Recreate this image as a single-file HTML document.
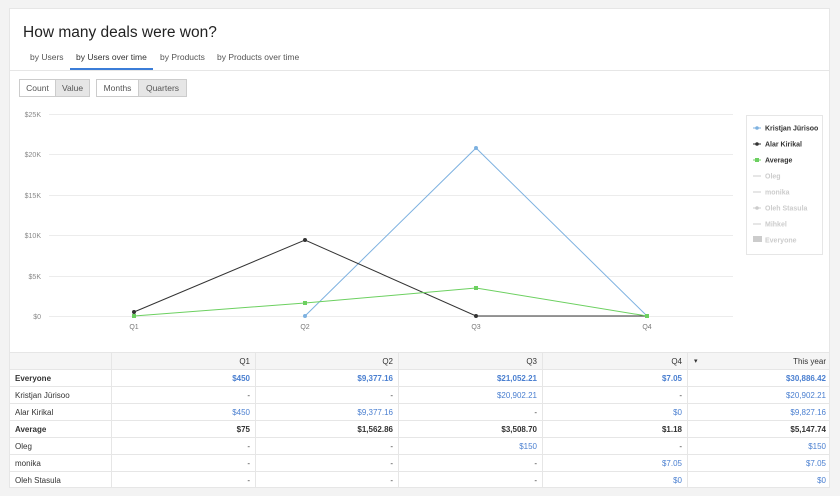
<!DOCTYPE html>
<html><head><meta charset="utf-8"><style>
*{margin:0;padding:0;box-sizing:border-box}
body{width:840px;height:496px;background:#f3f3f3;font-family:"Liberation Sans",sans-serif;position:relative;overflow:hidden}
#p{position:absolute;left:9px;top:8px;width:821px;height:480px;background:#fff;border:1px solid #e6e6e6;overflow:hidden}
h1{position:absolute;left:13px;top:15px;font-size:15.5px;font-weight:normal;color:#222}
.tab{position:absolute;top:43px;font-size:8.5px;color:#555}
.btn{position:absolute;top:70px;height:18px;border:1px solid #ccc;font-size:8.5px;color:#555;line-height:16px;text-align:center;background:#fff}
.btn.on{background:#e6e6e6}
table{position:absolute;left:-1px;top:343px;border-collapse:collapse;font-size:8px;color:#333;table-layout:fixed;width:822px}
td{height:17px;border:1px solid #e6e6e6;text-align:right;padding:0 5px;white-space:nowrap;overflow:hidden}
td:first-child{text-align:left}
tr.h td{background:#f5f5f5;color:#333}
.b{font-weight:bold}
.l{color:#4a7fd0}
</style></head><body>
<div id="p">
<h1>How many deals were won?</h1>
<div class="tab" style="left:20px">by Users</div>
<div class="tab" style="left:66px;color:#333">by Users over time</div>
<div style="position:absolute;left:60px;top:59px;width:83px;height:2px;background:#3b7dd8"></div>
<div class="tab" style="left:150px">by Products</div>
<div class="tab" style="left:207px">by Products over time</div>
<div style="position:absolute;left:0;top:61px;width:821px;height:1px;background:#e6e6e6"></div>
<div class="btn" style="left:9px;width:37px">Count</div>
<div class="btn on" style="left:45px;width:35px">Value</div>
<div class="btn" style="left:86px;width:43px">Months</div>
<div class="btn on" style="left:128px;width:49px">Quarters</div>
<svg style="position:absolute;left:0;top:0" width="821" height="340" font-family="Liberation Sans" font-size="7">
<g stroke="#ececec" stroke-width="1">
<line x1="39" x2="723" y1="105.5" y2="105.5"/><line x1="39" x2="723" y1="145.5" y2="145.5"/><line x1="39" x2="723" y1="186.5" y2="186.5"/><line x1="39" x2="723" y1="226.5" y2="226.5"/><line x1="39" x2="723" y1="267.5" y2="267.5"/><line x1="39" x2="723" y1="307.5" y2="307.5"/></g>
<g fill="#888" text-anchor="end"><text x="31" y="108">$25K</text><text x="31" y="148">$20K</text><text x="31" y="189">$15K</text><text x="31" y="229">$10K</text><text x="31" y="270">$5K</text><text x="31" y="310">$0</text></g>
<g fill="#777" text-anchor="middle"><text x="124" y="320">Q1</text><text x="295" y="320">Q2</text><text x="466" y="320">Q3</text><text x="637" y="320">Q4</text></g>
<polyline points="295,307 466,139 637,307" fill="none" stroke="#7db1e0" stroke-width="1"/>
<g fill="#7db1e0"><circle cx="295" cy="307" r="2"/><circle cx="466" cy="139" r="2"/></g>
<polyline points="124,303 295,231 466,307 637,307" fill="none" stroke="#333" stroke-width="1"/>
<g fill="#333"><circle cx="124" cy="303" r="2"/><circle cx="295" cy="231" r="2"/><circle cx="466" cy="307" r="2"/></g>
<polyline points="124,307 295,294 466,279 637,307" fill="none" stroke="#6cd060" stroke-width="1"/>
<g fill="#6cd060"><rect x="122" y="305" width="4" height="4"/><rect x="293" y="292" width="4" height="4"/><rect x="464" y="277" width="4" height="4"/><rect x="635" y="305" width="4" height="4"/></g>
<rect x="736.5" y="106.5" width="76" height="139" fill="#fff" stroke="#e6e6e6"/>
<g font-size="7" font-weight="bold">
<line x1="743" x2="751" y1="119" y2="119" stroke="#7db1e0"/><circle cx="747" cy="119" r="1.8" fill="#7db1e0"/><text x="755" y="121.5" fill="#333">Kristjan Jürisoo</text>
<line x1="743" x2="751" y1="135" y2="135" stroke="#333"/><circle cx="747" cy="135" r="1.8" fill="#333"/><text x="755" y="137.5" fill="#333">Alar Kirikal</text>
<line x1="743" x2="751" y1="151" y2="151" stroke="#6cd060"/><rect x="745" y="149" width="4" height="4" fill="#6cd060"/><text x="755" y="153.5" fill="#333">Average</text>
<g fill="#ccc" stroke="none">
<line x1="743" x2="751" y1="167" y2="167" stroke="#ccc"/><text x="755" y="169.5">Oleg</text>
<line x1="743" x2="751" y1="183" y2="183" stroke="#ccc"/><text x="755" y="185.5">monika</text>
<line x1="743" x2="751" y1="199" y2="199" stroke="#ccc"/><circle cx="747" cy="199" r="1.8"/><text x="755" y="201.5">Oleh Stasula</text>
<line x1="743" x2="751" y1="215" y2="215" stroke="#ccc"/><text x="755" y="217.5">Mihkel</text>
<rect x="743" y="227" width="9" height="6"/><text x="755" y="233.5">Everyone</text></g></g>
</svg>
<table>
<colgroup><col style="width:102px"><col style="width:144px"><col style="width:143px"><col style="width:144px"><col style="width:145px"><col style="width:144px"></colgroup>
<tr class="h"><td></td><td>Q1</td><td>Q2</td><td>Q3</td><td>Q4</td><td style="position:relative"><span style="position:absolute;left:6px;font-size:7px">▾</span>This year</td></tr>
<tr class="b"><td>Everyone</td><td class="l">$450</td><td class="l">$9,377.16</td><td class="l">$21,052.21</td><td class="l">$7.05</td><td class="l">$30,886.42</td></tr>
<tr><td>Kristjan Jürisoo</td><td>-</td><td>-</td><td class="l">$20,902.21</td><td>-</td><td class="l">$20,902.21</td></tr>
<tr><td>Alar Kirikal</td><td class="l">$450</td><td class="l">$9,377.16</td><td>-</td><td class="l">$0</td><td class="l">$9,827.16</td></tr>
<tr class="b"><td>Average</td><td>$75</td><td>$1,562.86</td><td>$3,508.70</td><td>$1.18</td><td>$5,147.74</td></tr>
<tr><td>Oleg</td><td>-</td><td>-</td><td class="l">$150</td><td>-</td><td class="l">$150</td></tr>
<tr><td>monika</td><td>-</td><td>-</td><td>-</td><td class="l">$7.05</td><td class="l">$7.05</td></tr>
<tr><td>Oleh Stasula</td><td>-</td><td>-</td><td>-</td><td class="l">$0</td><td class="l">$0</td></tr>
<tr><td>Mihkel</td><td>-</td><td>-</td><td>-</td><td>-</td><td>-</td></tr>
</table>
</div>
</body></html>
